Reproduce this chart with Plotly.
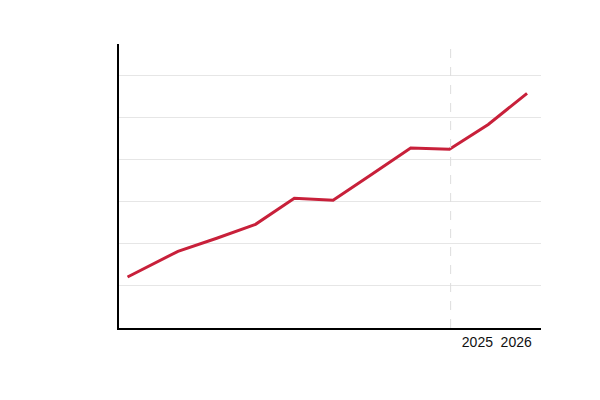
import plotly.graph_objects as go

years = [2015.7, 2017, 2018, 2019, 2020, 2021, 2022, 2023, 2024, 2025, 2026]
values = [12.1, 18.2, 21.3, 24.6, 30.8, 30.3, 36.5, 42.7, 42.4, 48.3, 55.7]
tick_pos = [2024.72, 2025.72]
tick_labels = ["2025", "2026"]

fig = go.Figure(go.Scatter(x=years, y=values, mode="lines",
                           line=dict(color="#c8203a", width=3)))
fig.add_vline(x=2024.03, line=dict(color="#dddddd", width=1, dash="dash"))
fig.update_layout(
    width=600, height=400, margin=dict(l=111, r=67, t=36, b=80),
    plot_bgcolor="white", paper_bgcolor="white", showlegend=False,
    font=dict(family="Liberation Sans, Arial", size=14, color="#111"),
    xaxis=dict(range=[2015.48, 2026.36], tickvals=tick_pos, ticktext=tick_labels,
               showgrid=False, showline=True, linecolor="black", linewidth=2,
               ticks="", zeroline=False),
    yaxis=dict(range=[0, 67.4], tickvals=[10, 20, 30, 40, 50, 60], showticklabels=False,
               showgrid=True, gridcolor="#e6e6e6", showline=True, linecolor="black",
               linewidth=2, ticks="", zeroline=False),
)
fig.write_html("out.html")
